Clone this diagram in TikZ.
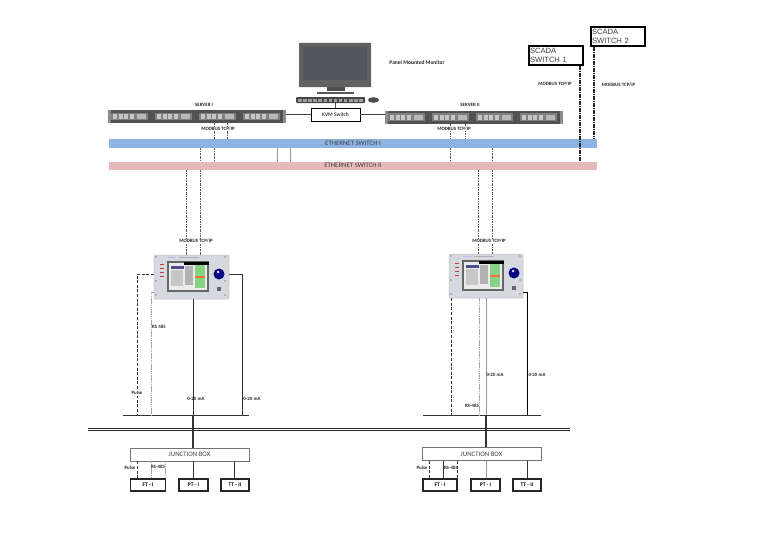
\documentclass[tikz,border=0pt]{standalone}
\usepackage{fontspec}
\setmainfont{Carlito}
\newfontfamily\arialf{Liberation Sans}
\definecolor{blueb}{HTML}{8DB3E2}
\definecolor{pinkb}{HTML}{E6B8B7}
\definecolor{panelg}{HTML}{D5D8DE}
\definecolor{screeng}{HTML}{55555F}
\tikzset{
  lab/.style={font=\bfseries\fontsize{4.9}{6}\selectfont,text=black!85,inner sep=0pt},
  swbar/.style={inner sep=0pt,font=\fontsize{6.8}{8}\selectfont,text=black!75},
  whitebox/.style={draw=black,line width=.8pt,fill=white,inner sep=0pt,font=\fontsize{5.5}{7}\selectfont},
  jbox/.style={draw=black!55,line width=.8pt,fill=white,inner sep=0pt,font=\fontsize{6.8}{8}\selectfont,text=black!75},
  fieldbox/.style={draw=black!85,line width=1.2pt,fill=white,inner sep=0pt,font=\bfseries\fontsize{5.5}{7}\selectfont},
  scadabox/.style={draw=black,line width=1.1pt,fill=white,inner sep=0pt,font=\arialf\fontsize{7.6}{9.5}\selectfont,text=black!75,align=left},
  serverbox/.style={fill=black!68,inner sep=0pt},
  iedbox/.style={fill=panelg,draw=black!25,line width=.5pt,rounded corners=1pt,inner sep=0pt},
  mbdot/.style={black!65,line width=.7pt,dash pattern=on 2pt off 1pt on .6pt off 1pt},
  scadaln/.style={black!85,line width=1.2pt,dash pattern=on 4pt off 1pt on 1pt off 1pt},
  pulseln/.style={black!80,line width=1pt,dash pattern=on 3pt off 1.6pt},
  rsln/.style={black!35,line width=.8pt,dash pattern=on 1.5pt off .7pt},
  anaLn/.style={black!80,line width=.8pt},
  greyln/.style={black!40,line width=.8pt},
  trunk/.style={black!80,line width=1.2pt},
}
\newcommand{\srvdetail}[2]{%
  \foreach \m in {0,44,88,132}{%
    \fill[black!50] (#1+3+\m,#2+2.5) rectangle (#1+40+\m,#2+10);
    \foreach \k in {0,1,2,3}{\fill[black!22] (#1+5+\m+\k*5.5,#2+4) rectangle (#1+9+\m+\k*5.5,#2+9);}
    \fill[black!28] (#1+29+\m,#2+4) rectangle (#1+38+\m,#2+9);
  }
  \fill[black!45] (#1,#2) rectangle (#1+3,#2+13);
  \fill[black!45] (#1+175,#2) rectangle (#1+178,#2+13);
}
\newcommand{\ieddetail}[2]{%
  \fill[black!60] (#1+13,#2+6) rectangle (#1+55,#2+37);
  \fill[black!8] (#1+15,#2+8) rectangle (#1+53,#2+35);
  \fill[black] (#1+30,#2+7) rectangle (#1+55,#2+9.5);
  \fill[green!45!gray!65] (#1+41,#2+10) rectangle (#1+51,#2+33);
  \fill[red!40!orange!80] (#1+41,#2+21) rectangle (#1+51,#2+23);
  \fill[black!30] (#1+31,#2+11) rectangle (#1+39,#2+30);
  \fill[blue!35!black!70] (#1+17,#2+11) rectangle (#1+30,#2+14);
  \fill[black!22] (#1+17,#2+15) rectangle (#1+29,#2+31);
  \fill[blue!25] (#1+14,#2+2) rectangle (#1+22,#2+3);
  \fill[black!30] (#1+25,#2+2) rectangle (#1+45,#2+3);
  \fill[blue!50!black] (#1+65,#2+19) circle (5.5);
  \fill[blue!15] (#1+64,#2+17) circle (1.5);
  \fill[black!60] (#1+63,#2+32) rectangle (#1+67,#2+36);
  \foreach \k in {0,1,2,3}{\fill[red!50!gray] (#1+6,#2+9+\k*4) rectangle (#1+10,#2+10.2+\k*4);}
  \foreach \a/\b in {2/2,71/2,2/26,71/26,2/40,71/40}{\fill[black!45] (#1+\a,#2+\b) circle (.9);}
}
\begin{document}
\begin{tikzpicture}[x=1pt,y=-1pt]
\useasboundingbox (0,0) rectangle (768,543);
\fill[white] (0,0) rectangle (768,543);

% nodes
\node[fill=blueb,swbar,minimum width=488pt,minimum height=9pt] (swA) at (353,143.5) {};
\node[fill=pinkb,swbar,minimum width=488pt,minimum height=8.5pt] (swB) at (353,166) {};
\node[serverbox,minimum width=178pt,minimum height=13pt] (srvA) at (197,116.5) {};
\node[serverbox,minimum width=178pt,minimum height=13pt] (srvB) at (474,117) {};
\node[whitebox,minimum width=49pt,minimum height=13pt] (kvm) at (335.5,114.5) {KVM Switch};
\node[scadabox,minimum width=54pt,minimum height=19pt,text width=52pt] (scA) at (556,55.5) {SCADA\\[-1pt]SWITCH 1};
\node[scadabox,minimum width=54pt,minimum height=19pt,text width=52pt] (scB) at (618,36.5) {SCADA\\[-1pt]SWITCH 2};
\node[iedbox,minimum width=75pt,minimum height=44pt] (iedA) at (191.5,277) {};
\node[iedbox,minimum width=74pt,minimum height=44pt] (iedB) at (486,276) {};
\node[jbox,minimum width=119pt,minimum height=13pt] (jbA) at (189.5,454.5) {JUNCTION BOX};
\node[jbox,minimum width=119pt,minimum height=13pt] (jbB) at (481.5,454) {JUNCTION BOX};
\node[fieldbox,minimum width=35pt,minimum height=12pt] (ftA) at (148,485) {FT - I};
\node[fieldbox,minimum width=29pt,minimum height=12pt] (ptA) at (193.5,485) {PT - I};
\node[fieldbox,minimum width=28pt,minimum height=12pt] (ttA) at (235,485) {TT - II};
\node[fieldbox,minimum width=34pt,minimum height=12pt] (ftB) at (440,485) {FT - I};
\node[fieldbox,minimum width=29pt,minimum height=12pt] (ptB) at (485.5,485) {PT - I};
\node[fieldbox,minimum width=28pt,minimum height=12pt] (ttB) at (527,485) {TT - II};

% buses
\coordinate (busAl) at (123,415);
\coordinate (busAr) at (249,415);
\coordinate (busBl) at (423,415);
\coordinate (busBr) at (541,415);
\coordinate (mainl) at (88,428);
\coordinate (mainr) at (570,428);
\coordinate (mainl2) at (88,430.5);
\coordinate (mainr2) at (570,430.5);
\draw[anaLn] (busAl) -- (busAr);
\draw[anaLn] (busBl) -- (busBr);
\draw[black!85,line width=.9pt] (mainl) -- (mainr);
\draw[black!85,line width=.9pt] (mainl2) -- (mainr2);

% monitor
\fill[black!62,rounded corners=.5pt] (299,43) rectangle (371,87);
\fill[screeng] (303,47) rectangle (367,80);
\fill[black!70] (327,87) rectangle (345,91);
\fill[black!65] (317,91.5) rectangle (354,94);
\fill[black!72,rounded corners=1pt] (296,97) rectangle (365,103);
\foreach \k in {0,...,12}{\fill[black!38] (298+\k*5.1,98.5) rectangle (301.5+\k*5.1,101.5);}
\fill[black!70] (373.5,100) ellipse (5.5 and 2.8);
\draw[black!70,line width=.5pt] (kvm.north) -- (335.5,103);

% server faces
\srvdetail{108}{110}
\srvdetail{385}{110.5}
\ieddetail{154}{255}
\ieddetail{449}{254}

% bar titles
\node[swbar] at (353,143.2) {ETHERNET SWITCH I};
\node[swbar] at (353,165.2) {ETHERNET SWITCH II};

% server connectors
\draw[black!75,line width=.7pt] (kvm.west) -- (kvm.west -| srvA.east);
\draw[black!75,line width=.7pt] (kvm.east) -- (kvm.east -| srvB.west);
\draw[mbdot] (srvA.south -| 214,0) -- (swA.north -| 214,0);
\draw[mbdot] (srvA.south -| 227,0) -- (swA.north -| 227,0);
\draw[mbdot] (swA.south -| 200,0) -- (swB.north -| 200,0);
\draw[mbdot] (swA.south -| 214,0) -- (swB.north -| 214,0);
\draw[greyln] (swA.south -| 277,0) -- (swB.north -| 277,0);
\draw[greyln] (swA.south -| 290,0) -- (swB.north -| 290,0);
\draw[mbdot] (swB.south -| 186,0) -- (iedA.north -| 186,0);
\draw[mbdot] (swB.south -| 200,0) -- (iedA.north -| 200,0);
\draw[mbdot] (srvB.south -| 450,0) -- (swA.north -| 450,0);
\draw[mbdot] (srvB.south -| 465,0) -- (swA.north -| 465,0);
\draw[mbdot] (swA.south -| 450,0) -- (swB.north -| 450,0);
\draw[mbdot] (swA.south -| 492,0) -- (swB.north -| 492,0);
\draw[mbdot] (swB.south -| 478,0) -- (iedB.north -| 478,0);
\draw[mbdot] (swB.south -| 492,0) -- (iedB.north -| 492,0);
\draw[scadaln] (scA.south -| 580,0) -- (swB.north -| 580,0);
\draw[scadaln] (scB.south -| 594,0) -- (swA.north -| 594,0);

% IED I field connectors
\draw[pulseln] (iedA.west |- 0,274) -| (busAl -| 137,0);
\draw[rsln] (iedA.west |- 0,292) -| (busAl -| 151,0);
\draw[anaLn] (iedA.south -| 193,0) -- (busAl -| 193,0);
\draw[anaLn] (iedA.east |- 0,274) -| (busAl -| 242,0);
% IED II field connectors
\draw[pulseln] (iedB.south -| 451,0) -- (busBl -| 451,0);
\draw[rsln] (iedB.south -| 479,0) -- (busBl -| 479,0);
\draw[greyln,line width=1pt] (iedB.south -| 486,0) -- (busBl -| 486,0);
\draw[black,line width=.9pt] (iedB.east |- 0,292) -| (busBl -| 527,0);

% trunks
\draw[trunk] (busAl -| 193,0) -- (jbA.north -| 193,0);
\draw[trunk] (busBl -| 486,0) -- (jbB.north -| 486,0);

% junction to field A
\draw[pulseln] (jbA.south -| 137,0) -- (ftA.north -| 137,0);
\draw[rsln] (jbA.south -| 151,0) -- (ftA.north -| 151,0);
\draw[rsln] (jbA.south -| 165,0) -- (ftA.north -| 165,0);
\draw[anaLn] (jbA.south -| 193,0) -- (ptA.north -| 193,0);
\draw[anaLn] (jbA.south -| 234,0) -- (ttA.north -| 234,0);
% junction to field B
\draw[pulseln] (jbB.south -| 429,0) -- (ftB.north -| 429,0);
\draw[anaLn] (jbB.south -| 443,0) -- (ftB.north -| 443,0);
\draw[pulseln] (jbB.south -| 457,0) -- (ftB.north -| 457,0);
\draw[greyln] (jbB.south -| 486,0) -- (ptB.north -| 486,0);
\draw[anaLn] (jbB.south -| 527,0) -- (ttB.north -| 527,0);

% labels
\node[lab,font=\bfseries\fontsize{5.5}{7}\selectfont] at (417,62.5) {Panel Mounted Monitor};
\node[lab] at (204,105) {SERVER I};
\node[lab] at (470,105) {SERVER II};
\node[lab,fill=white,inner xsep=1pt] at (218,129) {MODBUS TCP/IP};
\node[lab,fill=white,inner xsep=1pt] at (454,129) {MODBUS TCP/IP};
\node[lab] at (555,84) {MODBUS TCP/IP};
\node[lab] at (618.5,85) {MODBUS TCP/IP};
\node[lab,fill=white,inner xsep=1pt] at (196,241) {MODBUS TCP/IP};
\node[lab,fill=white,inner xsep=1pt] at (489,241) {MODBUS TCP/IP};
\node[lab] at (159,327) {RS 485};
\node[lab,fill=white,inner ysep=1pt] at (137,393) {Pulse};
\node[lab] at (196,399) {0-20 mA};
\node[lab] at (252,399) {0-20 mA};
\node[lab] at (495,375) {0-20 mA};
\node[lab] at (537,375) {0-20 mA};
\node[lab] at (472,405.5) {RS-485};
\node[lab] at (130,467.5) {Pulse};
\node[lab] at (158,467) {RS-485};
\node[lab] at (422,468) {Pulse};
\node[lab] at (451,468) {RS-485};
\end{tikzpicture}
\end{document}
